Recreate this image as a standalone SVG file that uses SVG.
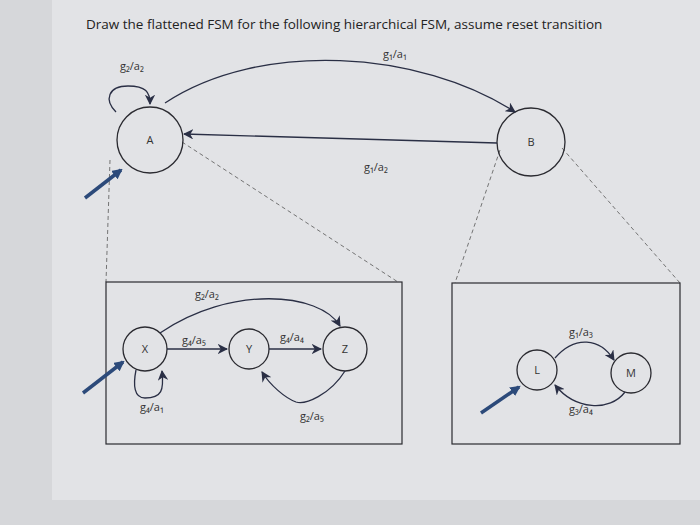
<svg xmlns="http://www.w3.org/2000/svg" width="700" height="525" viewBox="0 0 700 525">
<style>
.n{fill:none;stroke:#2a2a30;stroke-width:1.3}
.e{fill:none;stroke:#2a2f45;stroke-width:1.3}
.i{fill:none;stroke:#2c4a7a;stroke-width:3.5}
.d{fill:none;stroke:#666;stroke-width:0.9;stroke-dasharray:4 3}
.b{fill:none;stroke:#2a2a30;stroke-width:1.2}
text{font-family:"Open Sans","Liberation Sans",sans-serif;fill:#333;font-size:11px}
.t{font-size:13.5px;fill:#222}
</style>
<defs>
<marker id="a" viewBox="0 0 10 10" refX="9" refY="5" markerWidth="8" markerHeight="8" orient="auto"><path d="M0,0 L10,5 L0,10 L3,5z" fill="#2a2f45"/></marker>
<marker id="ai" viewBox="0 0 10 10" refX="8" refY="5" markerWidth="3" markerHeight="3" orient="auto"><path d="M0,0 L10,5 L0,10z" fill="#2c4a7a"/></marker>
</defs>
<rect width="700" height="525" fill="#d6d7da"/>
<rect x="52" y="0" width="648" height="500" fill="#e2e3e6"/>
<text class="t" x="86" y="29">Draw the flattened FSM for the following hierarchical FSM, assume reset transition</text>
<g id="dashes">
<path class="d" d="M182,142 L398,282"/><path class="d" d="M110,160 L106,282"/>
<path class="d" d="M500,150 L455,283"/><path class="d" d="M562,148 L680,283"/>
</g>
<rect class="b" x="106" y="282" width="296" height="162"/>
<rect class="b" x="452" y="283" width="228" height="161"/>
<g id="A"><circle class="n" cx="150" cy="140" r="33"/><text x="150" y="144" text-anchor="middle">A</text></g>
<g id="B"><circle class="n" cx="531" cy="142" r="34"/><text x="531" y="146" text-anchor="middle">B</text></g>
<g id="X"><circle class="n" cx="145" cy="349" r="22"/><text x="145" y="353" text-anchor="middle">X</text></g>
<g id="Y"><circle class="n" cx="249" cy="349" r="20"/><text x="249" y="353" text-anchor="middle">Y</text></g>
<g id="Z"><circle class="n" cx="345" cy="349" r="22"/><text x="345" y="353" text-anchor="middle">Z</text></g>
<g id="L"><circle class="n" cx="537" cy="370" r="20"/><text x="537" y="374" text-anchor="middle">L</text></g>
<g id="M"><circle class="n" cx="631" cy="373" r="20"/><text x="631" y="377" text-anchor="middle">M</text></g>
<g id="connectors">
<path class="e" d="M116,112 C104,100 108,86 128,86 C146,86 150,92 150,104" marker-end="url(#a)"/>
<path class="e" d="M165,103 C260,40 420,50 515,112" marker-end="url(#a)"/>
<path class="e" d="M497,143 L184,134" marker-end="url(#a)"/>
<path class="i" d="M85,198 L121,170" marker-end="url(#ai)"/>
<path class="e" d="M160,333 C230,285 320,292 340,326" marker-end="url(#a)"/>
<path class="e" d="M167,349 L227,349" marker-end="url(#a)"/>
<path class="e" d="M269,349 L321,349" marker-end="url(#a)"/>
<path class="e" d="M345,371 C330,395 305,405 296,402 C285,398 270,385 262,372" marker-end="url(#a)"/>
<path class="e" d="M136,370 C133,385 134,398 145,398 C162,398 164,390 162,371" marker-end="url(#a)"/>
<path class="i" d="M83,393 L123,362" marker-end="url(#ai)"/>
<path class="e" d="M555,358 C575,335 600,338 614,360" marker-end="url(#a)"/>
<path class="e" d="M625,392 C610,412 575,410 555,385" marker-end="url(#a)"/>
<path class="i" d="M481,413 L519,387" marker-end="url(#ai)"/>
</g>
<g id="labels">
<text x="120" y="70">g₂/a₂</text>
<text x="383" y="58">g₁/a₁</text>
<text x="364" y="171">g₁/a₂</text>
<text x="195" y="298">g₂/a₂</text>
<text x="182" y="344">g₄/a₅</text>
<text x="280" y="341">g₄/a₄</text>
<text x="140" y="411">g₄/a₁</text>
<text x="300" y="420">g₂/a₅</text>
<text x="569" y="336">g₁/a₃</text>
<text x="569" y="413">g₃/a₄</text>
</g>
</svg>
